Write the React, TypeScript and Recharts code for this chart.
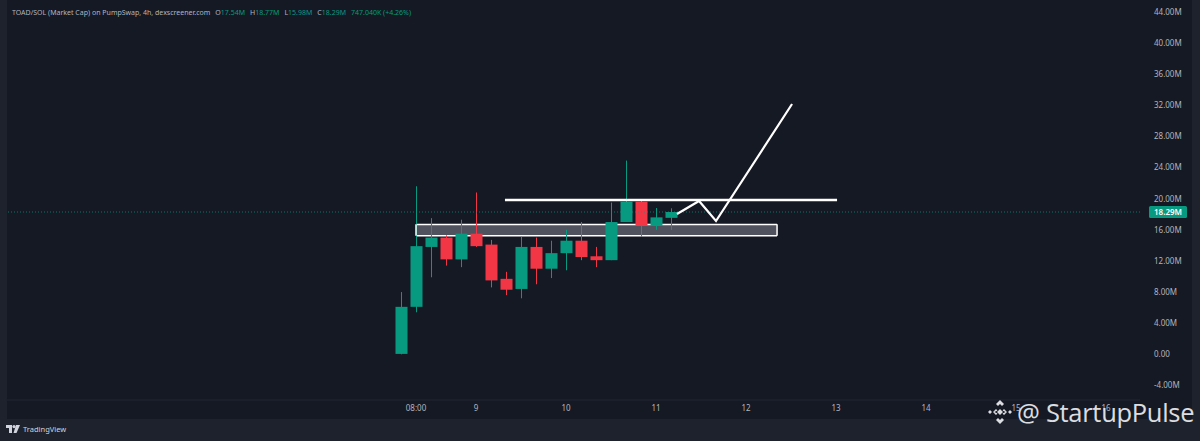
import React from "react";
import {
  ComposedChart,
  Bar,
  Line,
  Area,
  XAxis,
  YAxis,
  ReferenceLine,
} from "recharts";

// 4h candles, slot 1 = day 8 04:00
const slots = [1, 2, 3, 4, 5, 6, 7, 8, 9, 10, 11, 12, 13, 14, 15, 16, 17, 18, 19];
const opens = [0.05, 6.1, 13.8, 15.0, 12.2, 15.5, 14.1, 9.7, 8.4, 13.8, 11.0, 13.0, 14.6, 12.6, 12.1, 17.0, 19.6, 16.5, 17.54];
const highs = [8.0, 21.6, 17.5, 15.3, 17.3, 20.8, 14.7, 10.6, 15.1, 15.0, 14.6, 16.0, 17.0, 13.8, 19.5, 24.9, 19.7, 18.8, 18.77];
const lows = [0.0, 5.4, 9.9, 11.4, 11.2, 13.8, 8.6, 7.6, 7.2, 9.0, 9.8, 10.8, 12.1, 11.2, 12.1, 17.0, 15.1, 16.0, 15.98];
const closes = [6.1, 13.9, 15.0, 12.2, 15.5, 13.9, 9.5, 8.3, 13.8, 11.0, 13.0, 14.6, 12.5, 12.1, 17.0, 19.6, 16.5, 17.6, 18.29];

const xTicks = [2, 6, 12, 18, 24, 30, 36, 42, 48];
const xTickLabels = ["08:00", "9", "10", "11", "12", "13", "14", "15", "16"];
const yTicks = [-4, 0, 4, 8, 12, 16, 20, 24, 28, 32, 36, 40, 44];

// drawn annotations
const zigzagSlots = [19.4, 20.87, 22.0, 27.07];
const zigzagValues = [18.03, 19.7, 17.13, 32.17];
const resistance = { from: 7.93, to: 30.07, value: 19.83 };
const supportBox = { from: 2, to: 26.07, low: 15.24, high: 16.7 };
const lastPrice = 18.29;

const candles = slots.map((t, i) => ({
  t,
  o: opens[i],
  h: highs[i],
  l: lows[i],
  c: closes[i],
}));
const zigzag = zigzagSlots.map((t, i) => ({ t, v: zigzagValues[i] }));
const boxEdges = [
  { t: supportBox.from, r: [supportBox.low, supportBox.high] },
  { t: supportBox.to, r: [supportBox.low, supportBox.high] },
];

const UP = "#089981";
const DOWN = "#f23645";
const TEXT = "#b2b5be";
const FONT = "'Noto Sans', 'Open Sans', sans-serif";
const BODY_W = 12;

const Candle = (props: any) => {
  const { x, y, width, height, payload } = props;
  if (!payload) return null;
  const { o, h, l, c } = payload;
  const top = Math.min(y, y + height);
  const hgt = Math.abs(height);
  const k = h - l > 0 ? hgt / (h - l) : 0;
  const py = (v: number) => top + (h - v) * k;
  const color = c >= o ? UP : DOWN;
  const cx = Math.round(x + width / 2) + 0.5;
  const bTop = py(Math.max(o, c));
  const bBot = py(Math.min(o, c));
  return (
    <g>
      <line x1={cx} x2={cx} y1={top} y2={top + hgt} stroke={color} strokeWidth={1} />
      <rect x={cx - BODY_W / 2} y={bTop} width={BODY_W} height={Math.max(1.5, bBot - bTop)} fill={color} />
    </g>
  );
};

const PriceTag = (props: any) => {
  const vb = props.viewBox || {};
  const x = vb.x + vb.width + 9;
  const y = vb.y;
  return (
    <g>
      <rect x={x} y={y - 6} width={38} height={12} rx={1.5} fill={UP} />
      <text x={x + 19} y={y + 3} textAnchor="middle" fill="#fff" fontSize={8} fontWeight={600} fontFamily={FONT}>
        {lastPrice.toFixed(2)}M
      </text>
    </g>
  );
};

const fmtY = (v: number) => (v === 0 ? "0.00" : `${v.toFixed(2)}M`);
const fmtX = (v: number) => xTickLabels[xTicks.indexOf(v)] ?? "";

export default function App() {
  return (
    <div
      style={{
        position: "fixed",
        left: 0,
        top: 0,
        width: 1200,
        height: 441,
        background: "#1e222d",
        overflow: "hidden",
        fontFamily: FONT,
      }}
    >
      <div style={{ position: "absolute", left: 7, top: 0, width: 1185, height: 419, background: "#151924" }}>
        <ComposedChart width={1185} height={419} data={candles} margin={{ top: 0, right: 0, bottom: 0, left: 0 }}>
          <XAxis
            dataKey="t"
            type="number"
            domain={[-25.267, 50.267]}
            allowDataOverflow
            ticks={xTicks}
            tickFormatter={fmtX}
            height={19}
            tickSize={0}
            tickMargin={5}
            axisLine={{ stroke: "#232733" }}
            tick={{ fill: TEXT, fontSize: 8, fontFamily: FONT }}
          />
          <YAxis
            orientation="right"
            type="number"
            domain={[-5.874, 45.54]}
            allowDataOverflow
            ticks={yTicks}
            tickFormatter={fmtY}
            width={52}
            tickSize={0}
            tickMargin={14}
            axisLine={false}
            tick={{ fill: TEXT, fontSize: 8, fontFamily: FONT, textAnchor: "start" }}
          />
          <ReferenceLine
            y={lastPrice}
            stroke={UP}
            strokeOpacity={0.7}
            strokeDasharray="1 2"
            label={<PriceTag />}
          />
          <Area
            data={boxEdges}
            dataKey="r"
            type="linear"
            fill="#50535d"
            fillOpacity={1}
            stroke="#ffffff"
            strokeWidth={1.5}
            dot={false}
            activeDot={false}
            isAnimationActive={false}
          />
          <ReferenceLine
            segment={[
              { x: supportBox.from, y: supportBox.low },
              { x: supportBox.from, y: supportBox.high },
            ]}
            stroke="#ffffff"
            strokeWidth={1.5}
          />
          <ReferenceLine
            segment={[
              { x: supportBox.to, y: supportBox.low },
              { x: supportBox.to, y: supportBox.high },
            ]}
            stroke="#ffffff"
            strokeWidth={1.5}
          />
          <ReferenceLine
            segment={[
              { x: resistance.from, y: resistance.value },
              { x: resistance.to, y: resistance.value },
            ]}
            stroke="#ffffff"
            strokeWidth={2.5}
          />
          <Bar dataKey={(d: any) => [d.l, d.h]} barSize={12} shape={<Candle />} isAnimationActive={false} />
          <Line
            data={zigzag}
            dataKey="v"
            type="linear"
            stroke="#ffffff"
            strokeWidth={2.2}
            dot={false}
            activeDot={false}
            isAnimationActive={false}
          />
        </ComposedChart>
      </div>

      <div style={{ position: "absolute", left: 12, top: 8, fontSize: 7, color: TEXT, whiteSpace: "nowrap" }}>
        TOAD/SOL (Market Cap) on PumpSwap, 4h, dexscreener.com
        <span style={{ marginLeft: 5 }}>O</span>
        <span style={{ color: UP }}>17.54M</span>
        <span style={{ marginLeft: 5 }}>H</span>
        <span style={{ color: UP }}>18.77M</span>
        <span style={{ marginLeft: 5 }}>L</span>
        <span style={{ color: UP }}>15.98M</span>
        <span style={{ marginLeft: 5 }}>C</span>
        <span style={{ color: UP }}>18.29M</span>
        <span style={{ marginLeft: 5, color: UP }}>747.040K (+4.26%)</span>
      </div>

      <div style={{ position: "absolute", left: 6, top: 424, display: "flex", alignItems: "center", gap: 3, color: "#d1d4dc", fontSize: 7.5 }}>
        <svg width={14} height={8} viewBox="0 0 14 8">
          <path d="M0 0 H6 V8 H3 V3 H0 Z" fill="#d1d4dc" />
          <circle cx={8} cy={1.6} r={1.6} fill="#d1d4dc" />
          <path d="M10 0 H14 L10.5 8 H7.5 Z" fill="#d1d4dc" />
        </svg>
        <span>TradingView</span>
      </div>

      <div style={{ position: "absolute", left: 987, top: 398, display: "flex", alignItems: "center", gap: 4, color: "#eceef2", opacity: 0.92 }}>
        <svg width={26} height={28} viewBox="0 0 26 26">
          <g fill="#eceef2">
            <path d="M13 1 L17 5 L15 7 L13 5 L11 7 L9 5 Z" />
            <path d="M13 25 L9 21 L11 19 L13 21 L15 19 L17 21 Z" />
            <path d="M1 13 L3 11 L5 13 L3 15 Z" />
            <path d="M21 13 L23 11 L25 13 L23 15 Z" />
            <path d="M13 10 L16 13 L13 16 L10 13 Z" />
            <path d="M6 13 L9 10 L10.5 11.5 L7.5 13 L10.5 14.5 L9 16 Z" />
            <path d="M20 13 L17 10 L15.5 11.5 L18.5 13 L15.5 14.5 L17 16 Z" />
          </g>
        </svg>
        <span style={{ fontFamily: "'Open Sans', sans-serif", fontSize: 25.5, lineHeight: "28px", letterSpacing: -0.3 }}>@ StartupPulse</span>
      </div>
    </div>
  );
}
